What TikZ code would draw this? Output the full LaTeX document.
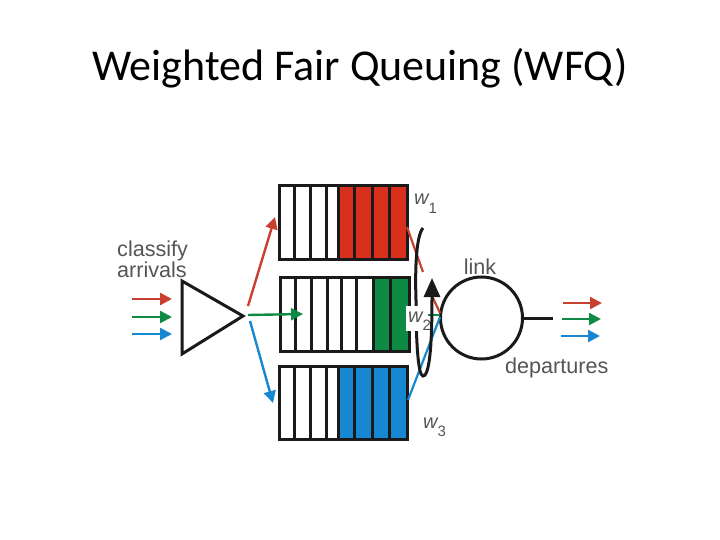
\documentclass[tikz,border=0pt]{standalone}
\usepackage{fontspec}
\setmainfont{Liberation Sans}
\newfontfamily\titlefont{Carlito}
\usetikzlibrary{arrows.meta}
\definecolor{qred}{HTML}{D9301E}
\definecolor{qgreen}{HTML}{0F8A44}
\definecolor{qblue}{HTML}{1787D2}
\definecolor{dred}{HTML}{C8402F}
\definecolor{ink}{HTML}{1A1A1A}
\definecolor{lbl}{HTML}{555555}
\tikzset{
  queue/.style={draw=ink,line width=3pt,fill=white,minimum height=#1,inner sep=0pt,outer sep=0pt,anchor=north west},
  div/.style={ink,line width=3pt},
  flow/.style={line width=2.4pt,-{Triangle[length=12pt,width=12pt]}},
  lab/.style={text=lbl,font=\fontsize{21.6}{19}\selectfont,inner sep=0pt},
  wlab/.style={text=lbl,font=\fontsize{20}{20}\selectfont,inner sep=0pt,anchor=base west},
}
\newcommand{\wsub}[1]{{\itshape w}\raisebox{-8.5pt}{\fontsize{15}{15}\selectfont #1}}
\begin{document}
\begin{tikzpicture}[x=1pt,y=-1pt]
\useasboundingbox (0,0) rectangle (720,540);
\node[font=\titlefont\fontsize{44}{48}\selectfont,text=black,inner sep=0pt] (title) at (360,68.5) {Weighted Fair Queuing (WFQ)};

% queues
\node[queue=73pt,minimum width=128pt] (q1) at (279,186) {};
\node[queue=74pt,minimum width=129pt] (q2) at (280,277) {};
\node[queue=73pt,minimum width=128pt] (q3) at (279,366) {};
\fill[qred] (338,186) rectangle (407,259);
\fill[qgreen] (373,277) rectangle (409,351);
\fill[qblue] (338,366) rectangle (407,439);
\draw[ink,line width=3pt] (q1.north west) rectangle (q1.south east);
\draw[ink,line width=3pt] (q2.north west) rectangle (q2.south east);
\draw[ink,line width=3pt] (q3.north west) rectangle (q3.south east);
\foreach \x in {294,310,326,338,354,372,389} {
  \draw[div] (\x,186) -- (\x,259);
  \draw[div] (\x,366) -- (\x,439);
}
\foreach \x in {295,311,327,341,356,373,390} \draw[div] (\x,277) -- (\x,351);

% classifier
\coordinate (ta) at (182,281);
\coordinate (tb) at (243,316);
\coordinate (tc) at (182,354);
\draw[ink,line width=3pt,line join=miter] (ta) -- (tb) -- (tc) -- cycle;

% link
\node[circle,draw=ink,line width=3pt,minimum size=82pt,inner sep=0pt,outer sep=0pt] (link) at (481.5,318) {};
\coordinate (out) at (553,318);
\draw[ink,line width=3pt] (link.east) -- (out);

% arrivals
\coordinate (ar1) at (132,299); \coordinate (ar2) at (172,299);
\coordinate (ag1) at (132,317); \coordinate (ag2) at (172,317);
\coordinate (ab1) at (132,334); \coordinate (ab2) at (172,334);
\draw[flow,dred] (ar1) -- (ar2);
\draw[flow,qgreen] (ag1) -- (ag2);
\draw[flow,qblue] (ab1) -- (ab2);

% classifier to queues
\coordinate (cr1) at (248,306); \coordinate (cr2) at (275,217);
\coordinate (cg1) at (248,315); \coordinate (cg2) at (303,314);
\coordinate (cb1) at (250,321); \coordinate (cb2) at (273,403);
\draw[flow,dred] (cr1) -- (cr2);
\draw[flow,qgreen] (cg1) -- (cg2);
\draw[flow,qblue] (cb1) -- (cb2);

% queues to link
\coordinate (r1) at (407,227); \coordinate (r2) at (423,272);
\coordinate (r3) at (433,298); \coordinate (r4) at (440,313);
\coordinate (g1) at (428,315); \coordinate (g2) at (440,315);
\coordinate (b1) at (408,400); \coordinate (b2) at (440,317);
\draw[dred,line width=2.2pt] (r1) -- (r2);
\draw[dred,line width=2.2pt] (r3) -- (r4);
\draw[qgreen,line width=2pt] (g1) -- (g2);
\draw[qblue,line width=2.2pt] (b1) -- (b2);

% scheduler loop
\coordinate (l0) at (423,228);
\coordinate (l1) at (432,278);
\draw[ink,line width=3pt,-{Triangle[length=19pt,width=16pt]}]
  (l0) .. controls (416,236) and (415,270) .. (416,300)
  .. controls (416,340) and (418,376) .. (423,376)
  .. controls (431,376) and (432,330) .. (l1);

% departures
\coordinate (dr1) at (563,303); \coordinate (dr2) at (602,303);
\coordinate (dg1) at (562,319); \coordinate (dg2) at (601,319);
\coordinate (db1) at (561,336); \coordinate (db2) at (600,336);
\draw[flow,dred] (dr1) -- (dr2);
\draw[flow,qgreen] (dg1) -- (dg2);
\draw[flow,qblue] (db1) -- (db2);

% labels
\node[lab,align=left,anchor=north west] (classify) at (117,241) {classify\\arrivals};
\node[lab,anchor=base] (linklbl) at (480,274) {link};
\node[lab,anchor=base west] (dep) at (505,373) {departures};
\node[wlab] (w1) at (414,205) {\wsub{1}};
\node[fill=white,inner sep=0pt,minimum width=22pt,minimum height=25pt] (wbox) at (417,318.5) {};
\node[wlab] (w2) at (408,322) {\wsub{2}};
\node[wlab] (w3) at (423,428) {\wsub{3}};
\end{tikzpicture}
\end{document}
